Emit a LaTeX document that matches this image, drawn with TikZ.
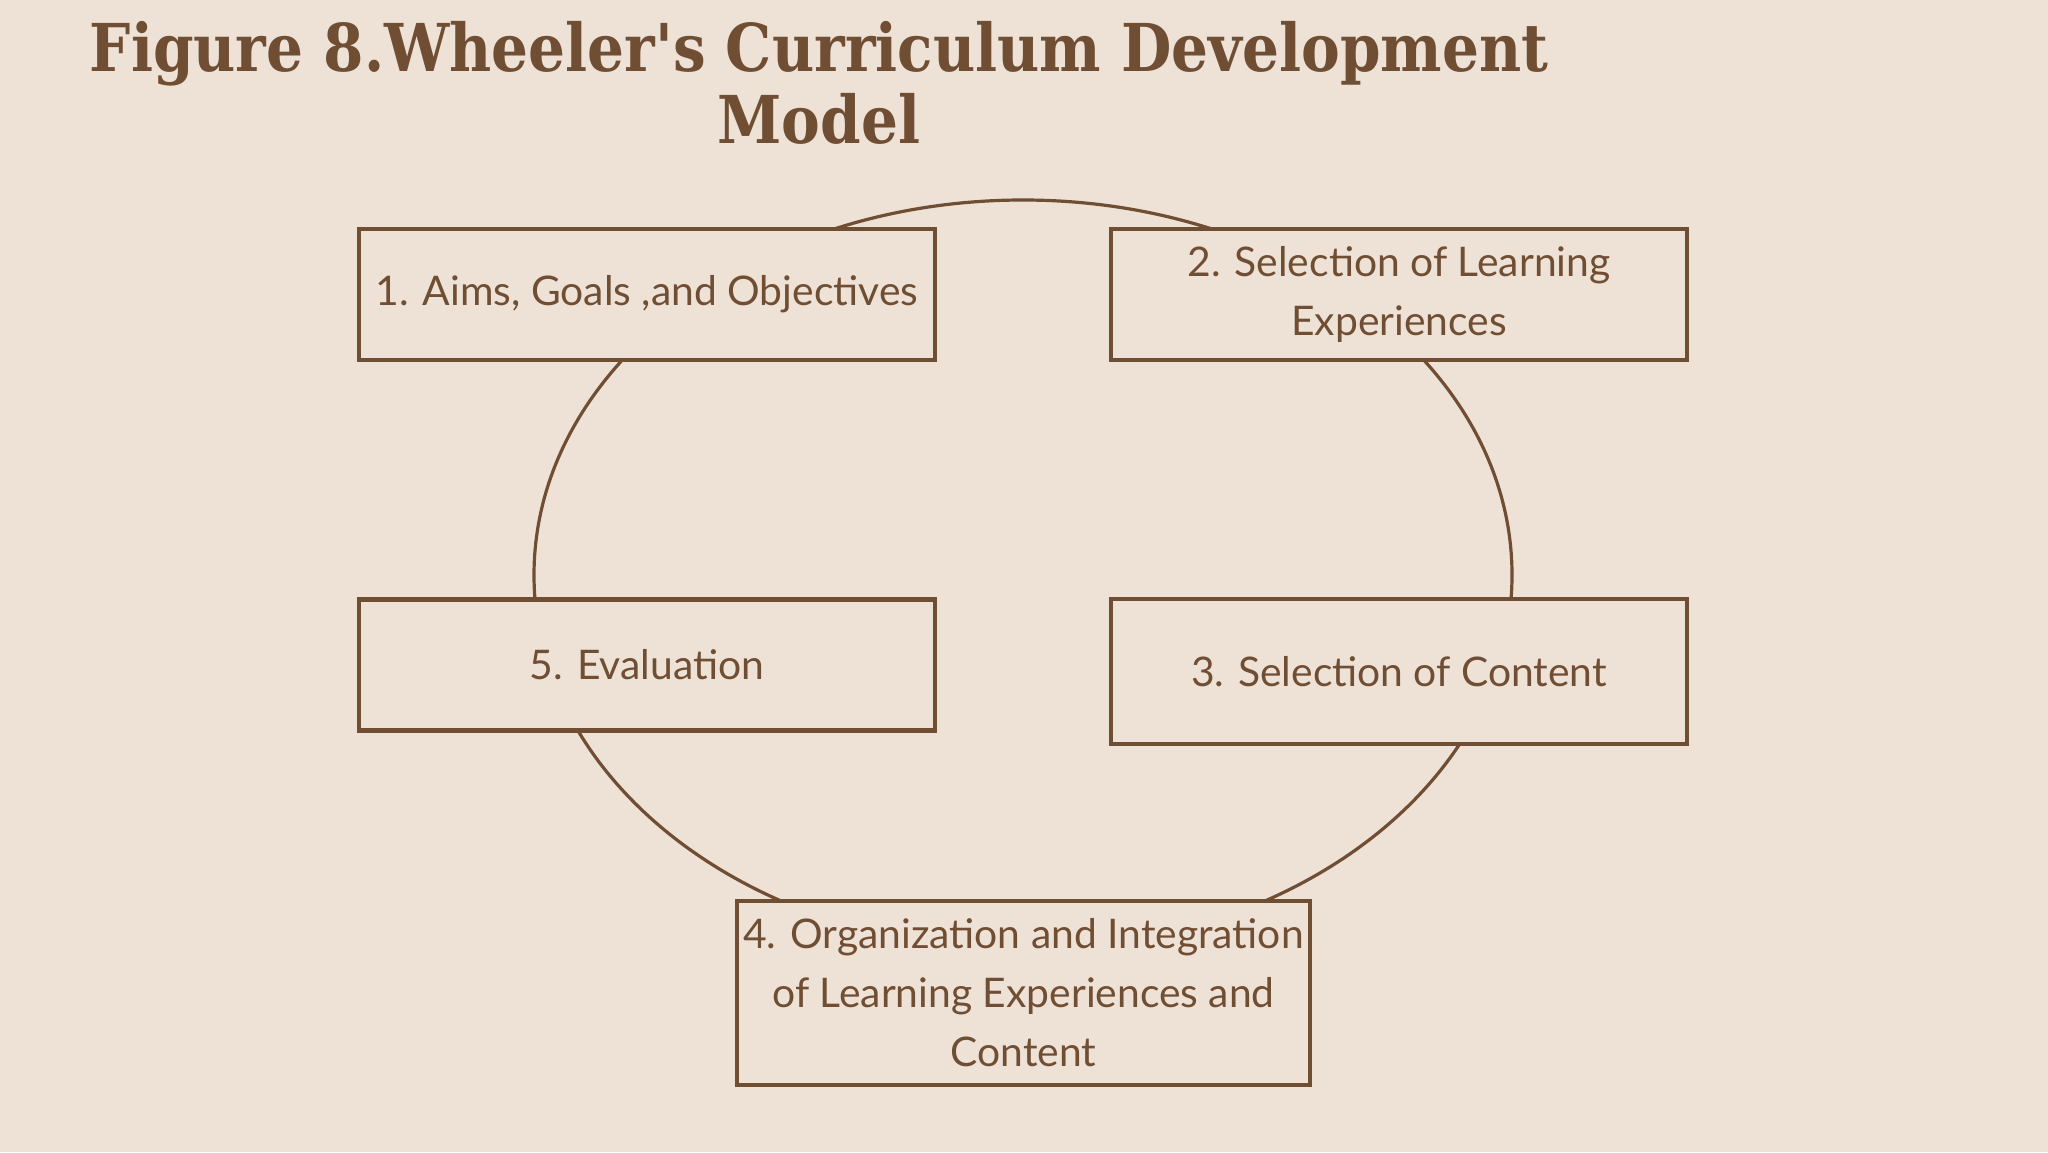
\documentclass[tikz,border=0pt]{standalone}
\usepackage{fontspec}
\setmainfont{Lato}
\newfontfamily\titlefont[FakeStretch=0.88]{DejaVu Serif}
\definecolor{bg}{RGB}{238,226,214}
\definecolor{brn}{RGB}{112,78,52}
\begin{document}
\begin{tikzpicture}[x=0.5pt,y=-0.5pt,
  stage/.style={draw=brn,line width=2.2pt,fill=bg,text=brn,align=center,
    font=\fontsize{20.4}{29.5}\selectfont,inner sep=0pt,
    minimum width=288pt,minimum height=65.5pt},
  ring/.style={draw=brn,line width=1.6pt},
  ttl/.style={text=brn,font=\titlefont\bfseries\fontsize{33}{36}\selectfont,anchor=base,inner sep=0pt}]
\fill[bg] (0,0) rectangle (2048,1152);
\useasboundingbox (0,0) rectangle (2048,1152);
\node[ttl] (t1) at (819,71) {Figure 8.Wheeler's Curriculum Development};
\node[ttl] (t2) at (819,143) {Model};
\draw[ring] (1023,575) ellipse [x radius=244.5pt, y radius=187.5pt];
\node[stage] (s1) at (647,294.5) {1. Aims, Goals ,and Objectives};
\node[stage] (s2) at (1399,294.5) {2. Selection of Learning\\Experiences};
\node[stage,minimum height=72.5pt] (s3) at (1399,671.5) {3. Selection of Content};
\node[stage,minimum width=286.5pt,minimum height=92pt] (s4) at (1023.5,993) {4. Organization and Integration\\of Learning Experiences and\\Content};
\node[stage] (s5) at (647,665) {5. Evaluation};
\end{tikzpicture}
\end{document}
